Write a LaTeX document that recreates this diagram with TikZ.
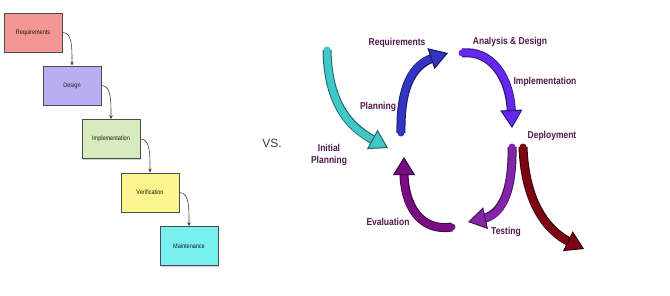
\documentclass[tikz,border=0pt]{standalone}
\usepackage{fontspec}
\setmainfont{Liberation Sans}
\newfontfamily\narrowfont[FakeStretch=0.85]{Liberation Sans}
\usetikzlibrary{arrows.meta,shadows}

\definecolor{reqred}{HTML}{F29696}
\definecolor{designlilac}{HTML}{B9AFF0}
\definecolor{implgreen}{HTML}{D7EBBE}
\definecolor{veriyellow}{HTML}{FAF58C}
\definecolor{maintcyan}{HTML}{78F0F0}
\definecolor{initteal}{HTML}{40C8C8}
\definecolor{planblue}{HTML}{3434C4}
\definecolor{designviolet}{HTML}{6428F0}
\definecolor{testpurple}{HTML}{8424A8}
\definecolor{evalpurple}{HTML}{7A0C84}
\definecolor{deployred}{HTML}{7C0414}
\definecolor{labelpurple}{HTML}{50184E}
\definecolor{vsgray}{HTML}{383838}

\tikzset{
  phase/.style={draw=black!70, line width=0.8pt, minimum width=58pt, minimum height=39pt,
    inner sep=0pt, font=\narrowfont\fontsize{6.5}{7}\selectfont, text=black!90,
    drop shadow={shadow xshift=1pt, shadow yshift=-1pt, opacity=0.35}},
  flow/.style={draw=black!75, line width=0.6pt, -{Stealth[length=4pt,width=3.5pt]}},
  cyclelabel/.style={font=\narrowfont\bfseries\fontsize{10}{12}\selectfont, text=labelpurple},
  cyclearrow/.style={draw=#1, line width=7pt, line cap=round,
    -{Triangle[width=22pt,length=18pt,line width=1pt,color=#1!50!black,fill=#1]},
    preaction={draw=#1!50!black, line width=9pt, arrows=-, shorten >=15pt}}
}

\begin{document}
\begin{tikzpicture}[x=1pt, y=-1pt]
    \useasboundingbox (0,0) rectangle (670,295);

    % waterfall
    \node[phase, fill=reqred] (req) at (33,32.5) {Requirements};
    \node[phase, fill=designlilac] (des) at (72,85.5) {Design};
    \node[phase, fill=implgreen] (impl) at (111,139) {Implementation};
    \node[phase, fill=veriyellow] (veri) at (150,192.5) {Verification};
    \node[phase, fill=maintcyan] (maint) at (189,246) {Maintenance};

    \draw[flow] (req.east) .. controls +(10,0) and +(0,-18) .. (des.north);
    \draw[flow] (des.east) .. controls +(10,0) and +(0,-18) .. (impl.north);
    \draw[flow] (impl.east) .. controls +(10,0) and +(0,-18) .. (veri.north);
    \draw[flow] (veri.east) .. controls +(10,0) and +(0,-18) .. (maint.north);

    \node[font=\fontsize{12}{14}\selectfont, text=vsgray] (vs) at (272,143) {VS.};

    % iterative cycle
    \coordinate (init-s) at (327,50);
    \coordinate (init-e) at (388,148);
    \coordinate (plan-s) at (401,133);
    \coordinate (plan-e) at (448,53);
    \coordinate (ad-s) at (462,53);
    \coordinate (ad-e) at (512,128);
    \coordinate (test-s) at (512,147);
    \coordinate (test-e) at (468,222);
    \coordinate (eval-s) at (452,227);
    \coordinate (eval-e) at (404,157);
    \coordinate (dep-s) at (523,147);
    \coordinate (dep-e) at (584,249);

    \draw[cyclearrow=initteal] (init-s) .. controls (328,110) and (355,130) .. (init-e);
    \draw[cyclearrow=planblue] (plan-s) .. controls (400,78) and (418,63) .. (plan-e);
    \draw[cyclearrow=designviolet] (ad-s) .. controls (490,50) and (510,75) .. (ad-e);
    \draw[cyclearrow=testpurple] (test-s) .. controls (513,195) and (500,215) .. (test-e);
    \draw[cyclearrow=evalpurple] (eval-s) .. controls (420,232) and (404,205) .. (eval-e);
    \draw[cyclearrow=deployred] (dep-s) .. controls (525,200) and (545,230) .. (dep-e);

    \node[cyclelabel] (l-req) at (397,43) {Requirements};
    \node[cyclelabel] (l-ad) at (510,42) {Analysis \& Design};
    \node[cyclelabel] (l-impl) at (545,82) {Implementation};
    \node[cyclelabel] (l-dep) at (552,136) {Deployment};
    \node[cyclelabel] (l-plan) at (378,107) {Planning};
    \node[cyclelabel, align=center] (l-init) at (329,155) {Initial\\Planning};
    \node[cyclelabel] (l-eval) at (388,222) {Evaluation};
    \node[cyclelabel] (l-test) at (506,232) {Testing};
\end{tikzpicture}
\end{document}
